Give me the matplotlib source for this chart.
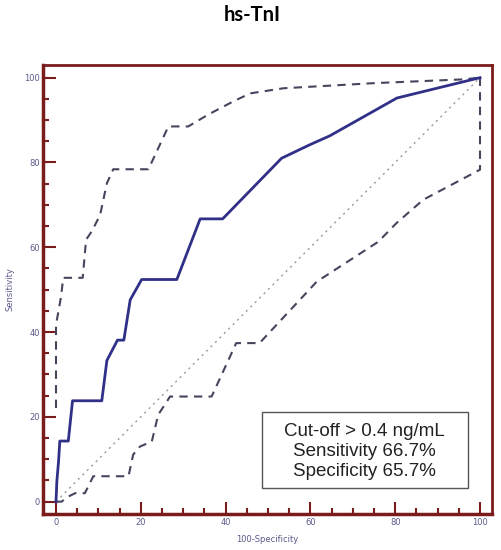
import matplotlib.pyplot as plt
from matplotlib.patches import Rectangle
from matplotlib.ticker import MultipleLocator

# ROC curve (100-Specificity, Sensitivity)
roc_x = [0, 0.2, 0.6, 0.9, 2.9, 3.9, 10.8, 12.0, 14.5, 16.0, 17.5, 20.2, 28.5, 34.0, 39.3,
         53.2, 59.9, 64.6, 80.4, 100]
roc_y = [0, 4.8, 9.5, 14.3, 14.3, 23.8, 23.8, 33.3, 38.1, 38.1, 47.6, 52.4, 52.4, 66.7, 66.7,
         81.0, 84.2, 86.3, 95.2, 100]

# upper confidence bound
upper_x = [0, 0, 1.2, 1.7, 6.3, 7.1, 8.4, 10.4, 12.0, 13.5, 21.8, 26.5, 31.2, 35.9, 41.8,
           45.8, 53.6, 74.8, 96.0, 100]
upper_y = [22.1, 41.7, 48.4, 52.8, 52.8, 61.8, 63.7, 67.6, 75.1, 78.4, 78.4, 88.5, 88.5, 91.3, 94.4,
           96.3, 97.5, 98.7, 99.6, 100]

# lower confidence bound
lower_x = [0, 1.3, 2.9, 4.5, 6.8, 8.8, 17.1, 18.2, 19.8, 22.6, 24.1, 26.9, 36.7, 42.5, 48.0,
           61.5, 64.6, 76.0, 80.3, 86.6, 100, 100]
lower_y = [0, 0, 1.2, 2.0, 2.0, 6.0, 6.0, 11.1, 13.0, 14.2, 20.5, 24.8, 24.8, 37.4, 37.4,
           51.9, 53.9, 61.3, 65.7, 71.2, 78.3, 100]

info_lines = ["Cut-off > 0.4 ng/mL", "Sensitivity 66.7%", "Specificity 65.7%"]

frame_col = '#7b1c1c'
label_col = '#5a5a8c'

fig = plt.figure(figsize=(5.01, 5.5), dpi=100)
ax = fig.add_axes([0.0858, 0.0655, 0.896, 0.8164])

# diagonal reference line
ax.plot([0, 100], [0, 100], color='#9a9a9a', lw=1, linestyle=(0, (1.5, 3)))
ax.plot(upper_x, upper_y, color='#45455e', lw=1.5, linestyle=(0, (4, 3)))
ax.plot(lower_x, lower_y, color='#45455e', lw=1.5, linestyle=(0, (4, 3)))
ax.plot(roc_x, roc_y, color='#303088', lw=2)

ax.set_xlim(-3.07, 102.8)
ax.set_ylim(-2.9, 103)

for s in ax.spines.values():
    s.set_color(frame_col)
    s.set_linewidth(2)
ax.spines['left'].set_linewidth(2.5)
ax.spines['bottom'].set_linewidth(2.5)

ax.xaxis.set_major_locator(MultipleLocator(20))
ax.xaxis.set_minor_locator(MultipleLocator(5))
ax.yaxis.set_major_locator(MultipleLocator(20))
ax.yaxis.set_minor_locator(MultipleLocator(5))
ax.tick_params(which='both', direction='in', color=frame_col, width=1.5,
               labelsize=6, labelcolor=label_col)
ax.tick_params(which='major', length=9, pad=3)
ax.tick_params(which='minor', length=4)
ax.tick_params(axis='y', which='major', pad=2)

ax.set_xlabel('100-Specificity', fontsize=6, color=label_col, labelpad=6)
ax.set_ylabel('Sensitivity', fontsize=6, color=label_col, labelpad=7)

# info box
ax.add_patch(Rectangle((0.488, 0.058), 0.4585, 0.169, transform=ax.transAxes,
                       fill=False, edgecolor='#555555', lw=1, zorder=5))
ax.text(0.717, 0.139, "\n".join(info_lines), transform=ax.transAxes,
        ha='center', va='center', fontsize=13.5, family='Liberation Sans',
        color='#222222', linespacing=1.2, zorder=6)

fig.text(0.503, 0.973, 'hs-TnI', ha='center', va='center', fontsize=14.5,
         fontweight='bold', family='Lato')

fig.savefig('out.png', dpi=100)
